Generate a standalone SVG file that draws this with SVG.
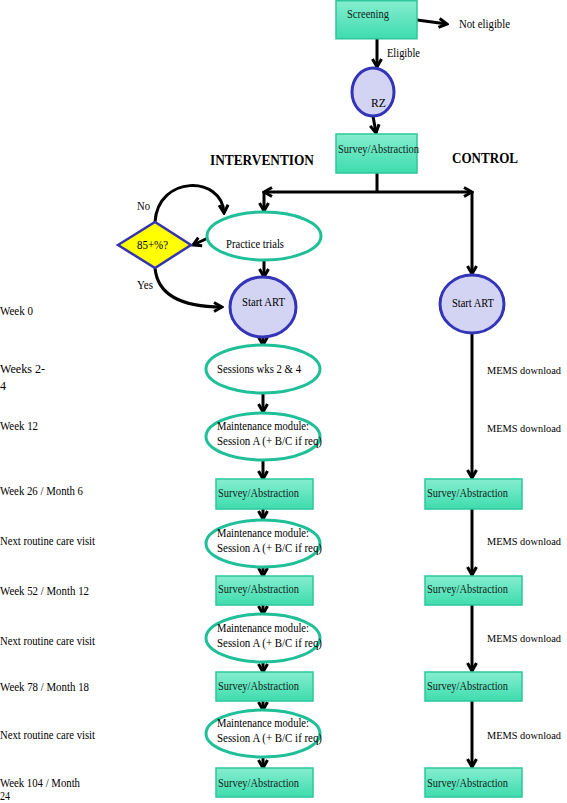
<svg xmlns="http://www.w3.org/2000/svg" width="567" height="803" viewBox="0 0 567 803">
<defs>
<linearGradient id="boxg" x1="0" y1="0" x2="0" y2="1">
<stop offset="0" stop-color="#86eecf"/>
<stop offset="1" stop-color="#3edcae"/>
</linearGradient>
<marker id="ah" viewBox="0 0 12 12" refX="10" refY="6" markerWidth="12" markerHeight="12" markerUnits="userSpaceOnUse" orient="auto">
<path d="M2,1.5 L10,6 L2,10.5" fill="none" stroke="#000" stroke-width="3"/>
</marker>
<style>
text{font-family:"Liberation Serif","Times New Roman",serif;font-size:12px;fill:#000}
.mems{font-size:10.5px}
.bt{fill:#10261c}
.hd{font-size:15px;font-weight:bold}
.box{fill:url(#boxg);stroke:#2cc79c;stroke-width:1.5}
.ell{fill:#fff;stroke:#1fbf98;stroke-width:3}
.rnd{fill:#d3d3f3;stroke:#3434b8;stroke-width:3}
.dia{fill:#ffff00;stroke:#3434b0;stroke-width:2.5}
.cn{fill:none;stroke:#000;stroke-width:3}
.ar{marker-end:url(#ah)}
</style>
</defs>
<rect width="567" height="803" fill="#fff"/>

<g id="labels">
<text x="0" y="315" textLength="33" lengthAdjust="spacingAndGlyphs">Week 0</text>
<text x="0" y="373" textLength="45" lengthAdjust="spacingAndGlyphs">Weeks 2-</text>
<text x="0" y="390">4</text>
<text x="0" y="430" textLength="38" lengthAdjust="spacingAndGlyphs">Week 12</text>
<text x="0" y="495" textLength="83" lengthAdjust="spacingAndGlyphs">Week 26 / Month 6</text>
<text x="0" y="545" textLength="95" lengthAdjust="spacingAndGlyphs">Next routine care visit</text>
<text x="0" y="595" textLength="89" lengthAdjust="spacingAndGlyphs">Week 52 / Month 12</text>
<text x="0" y="645" textLength="95" lengthAdjust="spacingAndGlyphs">Next routine care visit</text>
<text x="0" y="691" textLength="89" lengthAdjust="spacingAndGlyphs">Week 78 / Month 18</text>
<text x="0" y="739" textLength="95" lengthAdjust="spacingAndGlyphs">Next routine care visit</text>
<text x="0" y="787" textLength="80" lengthAdjust="spacingAndGlyphs">Week 104 / Month</text>
<text x="0" y="800" textLength="10" lengthAdjust="spacingAndGlyphs">24</text>
<text class="hd" x="210" y="165" textLength="104" lengthAdjust="spacingAndGlyphs">INTERVENTION</text>
<text class="hd" x="452" y="163" textLength="66" lengthAdjust="spacingAndGlyphs">CONTROL</text>
<text x="459" y="28" textLength="51" lengthAdjust="spacingAndGlyphs">Not eligible</text>
<text x="387" y="57" textLength="33" lengthAdjust="spacingAndGlyphs">Eligible</text>
<text x="137" y="210" textLength="13" lengthAdjust="spacingAndGlyphs">No</text>
<text x="137" y="289" textLength="16" lengthAdjust="spacingAndGlyphs">Yes</text>
<text class="mems" x="487" y="374" textLength="74" lengthAdjust="spacingAndGlyphs">MEMS download</text>
<text class="mems" x="487" y="432" textLength="74" lengthAdjust="spacingAndGlyphs">MEMS download</text>
<text class="mems" x="487" y="545" textLength="74" lengthAdjust="spacingAndGlyphs">MEMS download</text>
<text class="mems" x="487" y="642" textLength="74" lengthAdjust="spacingAndGlyphs">MEMS download</text>
<text class="mems" x="487" y="739" textLength="74" lengthAdjust="spacingAndGlyphs">MEMS download</text>
</g>

<g id="connectors">
<line class="cn ar" x1="417" y1="20" x2="447" y2="24"/>
<line class="cn ar" x1="377" y1="39" x2="377" y2="67"/>
<line class="cn ar" x1="373" y1="116" x2="376" y2="133"/>
<line class="cn" x1="377" y1="173" x2="377" y2="192"/>
<line class="cn ar" x1="377" y1="192" x2="264" y2="192"/>
<line class="cn ar" x1="377" y1="192" x2="472" y2="192"/>
<line class="cn ar" x1="264" y1="192" x2="264" y2="211"/>
<line class="cn ar" x1="472" y1="192" x2="472" y2="274"/>
<path class="cn ar" d="M155,222 C158,175 222,175 224,213"/>
<line class="cn ar" x1="208" y1="238" x2="193" y2="245"/>
<line class="cn ar" x1="264" y1="260" x2="264" y2="277"/>
<path class="cn ar" d="M155,268 C158,300 190,307 222,307"/>
<line class="cn ar" x1="263" y1="337" x2="263" y2="345"/>
<line class="cn ar" x1="263" y1="393" x2="263" y2="412"/>
<line class="cn ar" x1="263" y1="460" x2="263" y2="479"/>
<line class="cn ar" x1="263" y1="509" x2="263" y2="519"/>
<line class="cn ar" x1="263" y1="567" x2="263" y2="576"/>
<line class="cn ar" x1="263" y1="605" x2="263" y2="614"/>
<line class="cn ar" x1="263" y1="662" x2="263" y2="672"/>
<line class="cn ar" x1="263" y1="701" x2="263" y2="710"/>
<line class="cn ar" x1="263" y1="757" x2="263" y2="768"/>
<line class="cn ar" x1="472" y1="333" x2="472" y2="478"/>
<line class="cn ar" x1="472" y1="509" x2="472" y2="575"/>
<line class="cn ar" x1="472" y1="605" x2="472" y2="671"/>
<line class="cn ar" x1="472" y1="701" x2="472" y2="767"/>
</g>

<g id="screening">
<rect class="box" x="336" y="0.75" width="81" height="38"/>
<text class="bt" x="347" y="18" textLength="42" lengthAdjust="spacingAndGlyphs">Screening</text>
</g>
<g id="rz">
<ellipse class="rnd" cx="373" cy="92" rx="21" ry="24"/>
<text x="371" y="107" textLength="15" lengthAdjust="spacingAndGlyphs">RZ</text>
</g>
<g id="survey0">
<rect class="box" x="336" y="134" width="81" height="39"/>
<text class="bt" x="338" y="153" textLength="81" lengthAdjust="spacingAndGlyphs">Survey/Abstraction</text>
</g>
<g id="practice">
<ellipse class="ell" cx="264" cy="236" rx="57" ry="24"/>
<text x="226" y="248" textLength="58" lengthAdjust="spacingAndGlyphs">Practice trials</text>
</g>
<g id="decision">
<polygon class="dia" points="118,245 155,222 191,245 155,268"/>
<text x="137" y="249" textLength="31" lengthAdjust="spacingAndGlyphs">85+%?</text>
</g>
<g id="startI">
<ellipse class="rnd" cx="263" cy="307" rx="33" ry="30"/>
<text x="242" y="306" textLength="43" lengthAdjust="spacingAndGlyphs">Start ART</text>
</g>
<g id="sessions">
<ellipse class="ell" cx="263" cy="369" rx="57" ry="24"/>
<text x="217" y="373" textLength="84" lengthAdjust="spacingAndGlyphs">Sessions wks 2 &amp; 4</text>
</g>
<g id="maint1">
<ellipse class="ell" cx="263" cy="436.5" rx="57" ry="23.5"/>
<text x="217" y="430" textLength="92" lengthAdjust="spacingAndGlyphs">Maintenance module:</text>
<text x="217" y="445" textLength="105" lengthAdjust="spacingAndGlyphs">Session  A (+ B/C if req)</text>
</g>
<g id="surveyI1">
<rect class="box" x="216" y="479" width="97" height="30"/>
<text class="bt" x="218" y="497" textLength="81" lengthAdjust="spacingAndGlyphs">Survey/Abstraction</text>
</g>
<g id="maint2">
<ellipse class="ell" cx="263" cy="543.5" rx="57" ry="23.5"/>
<text x="217" y="537" textLength="92" lengthAdjust="spacingAndGlyphs">Maintenance module:</text>
<text x="217" y="552" textLength="105" lengthAdjust="spacingAndGlyphs">Session  A (+ B/C if req)</text>
</g>
<g id="surveyI2">
<rect class="box" x="216" y="576" width="97" height="29"/>
<text class="bt" x="218" y="593" textLength="81" lengthAdjust="spacingAndGlyphs">Survey/Abstraction</text>
</g>
<g id="maint3">
<ellipse class="ell" cx="263" cy="638" rx="57" ry="24"/>
<text x="217" y="632" textLength="92" lengthAdjust="spacingAndGlyphs">Maintenance module:</text>
<text x="217" y="647" textLength="105" lengthAdjust="spacingAndGlyphs">Session  A (+ B/C if req)</text>
</g>
<g id="surveyI3">
<rect class="box" x="216" y="672" width="97" height="29"/>
<text class="bt" x="218" y="690" textLength="81" lengthAdjust="spacingAndGlyphs">Survey/Abstraction</text>
</g>
<g id="maint4">
<ellipse class="ell" cx="263" cy="733.5" rx="57" ry="23.5"/>
<text x="217" y="727" textLength="92" lengthAdjust="spacingAndGlyphs">Maintenance module:</text>
<text x="217" y="742" textLength="105" lengthAdjust="spacingAndGlyphs">Session  A (+ B/C if req)</text>
</g>
<g id="surveyI4">
<rect class="box" x="216" y="768" width="97" height="29"/>
<text class="bt" x="218" y="787" textLength="81" lengthAdjust="spacingAndGlyphs">Survey/Abstraction</text>
</g>
<g id="startC">
<ellipse class="rnd" cx="472" cy="304" rx="32" ry="29"/>
<text x="452" y="307" textLength="42" lengthAdjust="spacingAndGlyphs">Start ART</text>
</g>
<g id="surveyC1">
<rect class="box" x="425" y="479" width="97" height="30"/>
<text class="bt" x="427" y="497" textLength="81" lengthAdjust="spacingAndGlyphs">Survey/Abstraction</text>
</g>
<g id="surveyC2">
<rect class="box" x="425" y="576" width="97" height="29"/>
<text class="bt" x="427" y="593" textLength="81" lengthAdjust="spacingAndGlyphs">Survey/Abstraction</text>
</g>
<g id="surveyC3">
<rect class="box" x="425" y="672" width="97" height="29"/>
<text class="bt" x="427" y="690" textLength="81" lengthAdjust="spacingAndGlyphs">Survey/Abstraction</text>
</g>
<g id="surveyC4">
<rect class="box" x="425" y="768" width="97" height="29"/>
<text class="bt" x="427" y="787" textLength="81" lengthAdjust="spacingAndGlyphs">Survey/Abstraction</text>
</g>
</svg>
